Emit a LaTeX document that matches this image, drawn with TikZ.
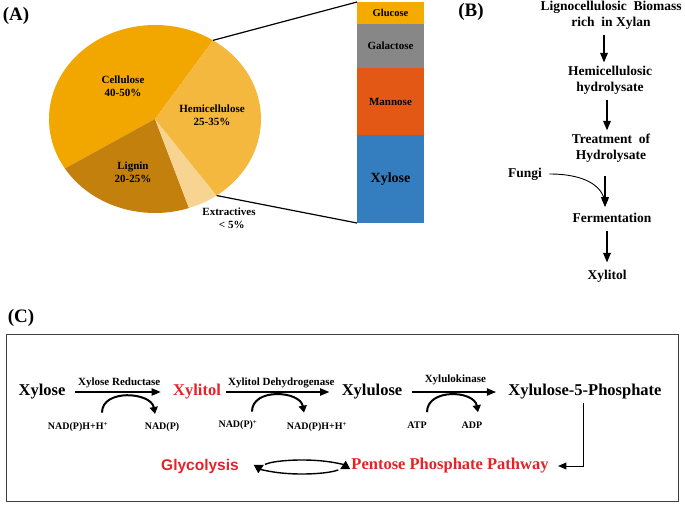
\documentclass[tikz,border=0pt]{standalone}
\usepackage{fontspec}
\setmainfont{Liberation Serif}
\newfontfamily\glyfont{Liberation Sans}
\usetikzlibrary{arrows, arrows.meta, calc, math}

\definecolor{celcol}{RGB}{242,166,0}
\definecolor{hemcol}{RGB}{244,184,62}
\definecolor{ligcol}{RGB}{196,128,12}
\definecolor{extcol}{RGB}{247,212,145}
\definecolor{glucol}{RGB}{245,170,0}
\definecolor{galcol}{RGB}{135,135,135}
\definecolor{mancol}{RGB}{228,88,22}
\definecolor{xylcol}{RGB}{52,125,190}
\definecolor{redcol}{RGB}{226,35,40}

\begin{document}
\begin{tikzpicture}[x=1pt, y=1pt, >=triangle 45,
  lbl/.style={font=\fontsize{19}{22}\selectfont\bfseries},
  pielbl/.style={font=\fontsize{11}{13}\selectfont\bfseries, align=center},
  barseg/.style={minimum width=67pt, inner sep=0pt, outer sep=0pt, font=\fontsize{10.5}{12}\selectfont\bfseries},
  flow/.style={font=\fontsize{13.5}{16}\selectfont\bfseries, align=center},
  flowarr/.style={->, line width=1.2pt},
  chem/.style={font=\fontsize{16.5}{18}\selectfont\bfseries},
  glystyle/.style={font=\fontsize{15.5}{18}\selectfont\glyfont\bfseries, text=redcol},
  enz/.style={font=\fontsize{11}{12}\selectfont\bfseries},
  cofac/.style={font=\fontsize{10}{11}\selectfont\bfseries},
  react/.style={->, line width=1.1pt, shorten <=6pt, shorten >=9pt},
  cofarr/.style={-{Triangle[length=7pt,width=8pt]}, line width=2pt},
  cycarr/.style={-{Triangle[length=9pt,width=9pt]}, line width=1.4pt},
]
\useasboundingbox (0,0) rectangle (685,504);

\tikzmath{
  \cx = 155; \cy = 385; \rx = 106; \ry = 94;
  \aCel = 56.8; \aLig = 211.8; \aExt = 288.7; \aHem = 305.5;
}

% (A) pie chart and zoom bar
\node[lbl] (labA) at (16,488) {(A)};

\fill[celcol] (\cx,\cy) -- ({\cx+\rx*cos(\aCel)},{\cy+\ry*sin(\aCel)}) arc[start angle=\aCel, end angle=\aLig, x radius=\rx, y radius=\ry] -- cycle;
\fill[ligcol] (\cx,\cy) -- ({\cx+\rx*cos(\aLig)},{\cy+\ry*sin(\aLig)}) arc[start angle=\aLig, end angle=\aExt, x radius=\rx, y radius=\ry] -- cycle;
\fill[extcol] (\cx,\cy) -- ({\cx+\rx*cos(\aExt)},{\cy+\ry*sin(\aExt)}) arc[start angle=\aExt, end angle=\aHem, x radius=\rx, y radius=\ry] -- cycle;
\fill[hemcol] (\cx,\cy) -- ({\cx+\rx*cos(\aHem)},{\cy+\ry*sin(\aHem)}) arc[start angle=\aHem, end angle=\aCel+360, x radius=\rx, y radius=\ry] -- cycle;

\node[pielbl] (cel) at (123,418) {Cellulose\\40-50\%};
\node[pielbl] (hem) at (212,389) {Hemicellulose\\25-35\%};
\node[pielbl] (lig) at (133,332) {Lignin\\20-25\%};
\node[pielbl] (ext) at (229,286) {Extractives\\\,\,\,{<} 5\%};

\node[barseg, fill=glucol, minimum height=22pt] (glu) at (390.5,491) {Glucose};
\node[barseg, fill=galcol, minimum height=44pt, font=\fontsize{11}{12}\selectfont\bfseries] (gal) at (390.5,458) {Galactose};
\node[barseg, fill=mancol, minimum height=67pt, font=\fontsize{11}{12}\selectfont\bfseries] (man) at (390.5,402.5) {Mannose};
\node[barseg, fill=xylcol, minimum height=88pt, font=\fontsize{14}{16}\selectfont\bfseries] (xyl) at (390.5,325) {Xylose};

\coordinate (pTop) at ({\cx+\rx*cos(\aCel)},{\cy+\ry*sin(\aCel)});
\coordinate (pBot) at ({\cx+\rx*cos(\aHem)},{\cy+\ry*sin(\aHem)});
\draw[line width=1.2pt] (pTop) -- (glu.north west);
\draw[line width=1.2pt] (pBot) -- (xyl.south west);

% (B) process
\node[lbl] (labB) at (471,492) {(B)};
\node[flow] (bio) at (611,489) {Lignocellulosic\ \ Biomass\\rich\ \ in Xylan};
\node[flow] (hydro) at (610,424) {Hemicellulosic\\hydrolysate};
\node[flow] (treat) at (611,356) {Treatment\ \ of\\Hydrolysate};
\node[flow] (fungi) at (525,330) {Fungi};
\node[flow] (ferm) at (612,286) {Fermentation};
\node[flow] (xylit) at (607,228) {Xylitol};

\coordinate (fin) at ([xshift=-7pt]ferm.north);
\draw[flowarr, shorten <=2pt] ([xshift=-7pt]bio.south) -- ([xshift=-7pt]bio.south |- hydro.north);
\draw[flowarr, shorten <=2pt] ([xshift=-3pt]hydro.south) -- ([xshift=-3pt]hydro.south |- treat.north);
\draw[flowarr, shorten <=10pt, shorten >=3pt] (treat.south -| fin) -- (fin);
\draw[flowarr, shorten <=5pt, shorten >=4pt] (ferm.south -| xylit.north) -- (xylit.north);
\draw[line width=0.9pt, ->, shorten >=3pt] ([xshift=4pt]fungi.east) .. controls +(38,0) and +(0,22) .. (fin);

% (C) pathway
\node[lbl] (labC) at (21,186) {(C)};
\draw[line width=1pt, draw=black!75] (6,3) rectangle (678,170);

\node[chem] (xylose) at (42,112) {Xylose};
\node[chem, text=redcol] (xylitol) at (197,112) {Xylitol};
\node[chem] (xylulose) at (372,112) {Xylulose};
\node[chem] (x5p) at (585,112) {Xylulose-5-Phosphate};

\draw[react] (xylose) -- (xylitol) node[midway, above, enz] {Xylose Reductase};
\draw[react, shorten <=2pt] (xylitol) -- (xylulose) node[midway, above, enz] {Xylitol\ Dehydrogenase};
\draw[react] (xylulose) -- (x5p) node[midway, above=3pt, enz] {Xylulokinase};

\node[cofac] (nadA) at (78,77) {NAD(P)H+H\textsuperscript{+}};
\node[cofac] (nadB) at (162,77) {NAD(P)};
\node[cofac] (nadC) at (238,79) {NAD(P)\textsuperscript{+}};
\node[cofac] (nadD) at (317,77) {NAD(P)H+H\textsuperscript{+}};
\node[cofac] (atp) at (417,79) {ATP};
\node[cofac] (adp) at (472,79) {ADP};

\draw[cofarr] ([xshift=24pt,yshift=6pt]nadA.north) .. controls +(0,24) and +(-4,22) .. ([xshift=-7pt,yshift=5pt]nadB.north);
\draw[cofarr] ([xshift=14pt,yshift=5pt]nadC.north) .. controls +(0,24) and +(-4,22) .. ([xshift=-13pt,yshift=6pt]nadD.north);
\draw[cofarr] ([xshift=10pt,yshift=6pt]atp.north) .. controls +(0,24) and +(-4,22) .. ([xshift=6pt,yshift=6pt]adp.north);

\node[glystyle] (gly) at (200,38) {Glycolysis};
\node[chem, text=redcol] (ppp) at (450,38) {Pentose Phosphate Pathway};

\draw[line width=0.9pt, ->, shorten >=6pt] ([xshift=-2pt]x5p.south) |- (ppp.east);

\coordinate (cyc) at (302,37);
\draw[cycarr] ([shift={(-25:40 and 7)}]cyc) arc[start angle=-25, end angle=-198, x radius=40, y radius=7];
\draw[cycarr] ([shift={(158:40 and 7)}]cyc) arc[start angle=158, end angle=-18, x radius=40, y radius=7];

\end{tikzpicture}
\end{document}
